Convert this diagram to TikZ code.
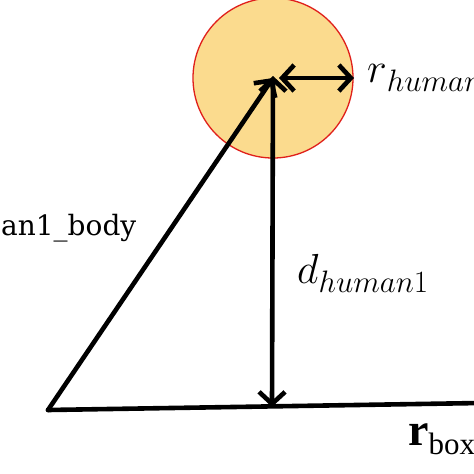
\RequirePackage{fix-cm}
\documentclass[tikz,border=0pt]{standalone}
\usepackage{fontspec}
\setmainfont{Liberation Serif}
\newfontfamily\labelfont{DejaVu Serif}
\usetikzlibrary{arrows.meta}
\definecolor{fillhuman}{HTML}{FBDB8E}
\definecolor{edgehuman}{HTML}{E0201B}
\tikzset{
  vec/.style={line width=4.6pt, line cap=round, -{Straight Barb[length=12pt,width=26pt,line width=4.6pt]}},
  dvec/.style={line width=4.6pt, {Straight Barb[length=12pt,width=26pt,line width=4.6pt]}-{Straight Barb[length=12pt,width=26pt,line width=4.6pt]}},
  lbl/.style={inner sep=0pt, anchor=base west}
}
\newcommand{\bigsub}[1]{\raisebox{-9pt}{\fontsize{31}{31}\selectfont$#1$}}
\begin{document}
\begin{tikzpicture}[x=1pt,y=-1pt]
\useasboundingbox (0,0) rectangle (474,474);
\clip (0,0) rectangle (474,474);
\fill[white] (0,0) rectangle (474,474);
\coordinate (c) at (273,78);
\coordinate (o) at (48,410);
\coordinate (f) at (272,407);
\coordinate (e) at (480,403);
\coordinate (rr) at (354,78);
\draw[fill=fillhuman, draw=edgehuman, line width=1.3pt] (c) circle[radius=80];
\draw[line width=4.6pt, line cap=round] (o) -- (e);
\draw[vec] (o) -- (c);
\draw[dvec] ([yshift=2pt]c) -- (f);
\draw[dvec] ([xshift=6pt]c) -- (rr);
\node[lbl] (rh) at (367,82) {\fontsize{42}{46}\selectfont $r$\bigsub{human1}};
\node[lbl] (dh) at (297,283) {\fontsize{42}{46}\selectfont $d$\bigsub{human1}};
\node[lbl] (hb) at (1,235) {\labelfont\fontsize{28}{32}\selectfont an1\_body};
\node[lbl] (rb) at (408,445) {\fontsize{46}{50}\selectfont $\mathbf{r}$\bigsub{\mathrm{box}}};
\end{tikzpicture}
\end{document}
